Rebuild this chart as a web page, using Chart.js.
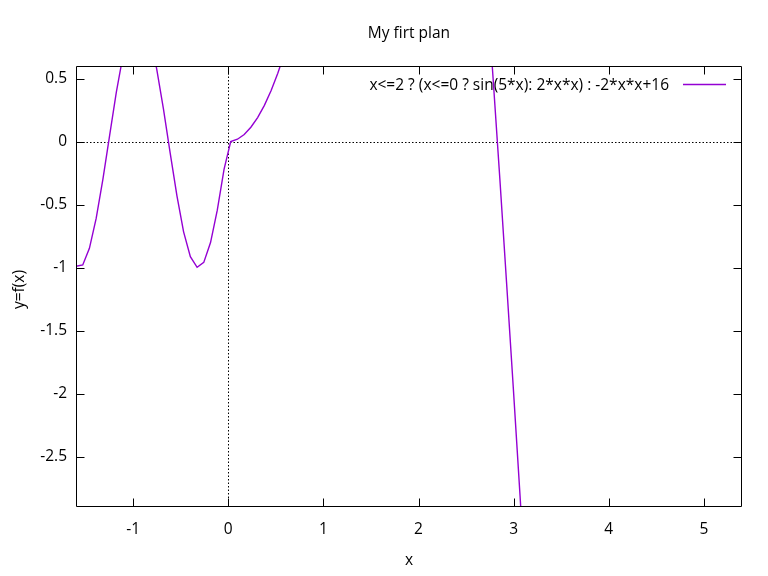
<!DOCTYPE html>
<html>
<head>
<meta charset="utf-8">
<script src="https://cdn.jsdelivr.net/npm/chart.js@4/dist/chart.umd.min.js"></script>
<style>
html,body{margin:0;padding:0;background:#fff;}
#wrap{width:768px;height:576px;position:relative;}
</style>
</head>
<body>
<div id="wrap"><canvas id="c" width="768" height="576"></canvas></div>
<script>
const titleText = "My firt plan";
const xAxisLabel = "x";
const yAxisLabel = "y=f(x)";
const seriesLabel = "x<=2 ? (x<=0 ? sin(5*x): 2*x*x) : -2*x*x+16";
const xRange = [-1.6, 5.4];
const yRange = [-2.9, 0.6];
const xTickValues = [-1, 0, 1, 2, 3, 4, 5];
const xTickLabels = ["-1", "0", "1", "2", "3", "4", "5"];
const yTickValues = [0.5, 0, -0.5, -1, -1.5, -2, -2.5];
const yTickLabels = ["0.5", "0", "-0.5", "-1", "-1.5", "-2", "-2.5"];
const xValues = [
 -1.600,-1.529,-1.459,-1.388,-1.317,-1.246,-1.176,-1.105,-1.034,-0.964,
 -0.893,-0.822,-0.752,-0.681,-0.610,-0.539,-0.469,-0.398,-0.327,-0.257,
 -0.186,-0.115,-0.044,0.026,0.097,0.168,0.238,0.309,0.380,0.451,
 0.521,0.592,0.663,0.733,0.804,0.875,0.945,1.016,1.087,1.158,
 1.228,1.299,1.370,1.440,1.511,1.582,1.653,1.723,1.794,1.865,
 1.935,2.006,2.077,2.147,2.218,2.289,2.360,2.430,2.501,2.572,
 2.642,2.713,2.784,2.855,2.925,2.996,3.067,3.137,3.208,3.279,
 3.349,3.420,3.491,3.562,3.632,3.703,3.774,3.844,3.915,3.986,
 4.057,4.127,4.198,4.269,4.339,4.410,4.481,4.552,4.622,4.693,
 4.764,4.834,4.905,4.976,5.046,5.117,5.188,5.259,5.329,5.400
];
const yValues = [
 -0.989,-0.979,-0.847,-0.610,-0.298,0.051,0.393,0.687,0.896,0.994,
 0.969,0.825,0.578,0.259,-0.091,-0.430,-0.716,-0.913,-0.998,-0.959,
 -0.801,-0.544,-0.220,0.001,0.019,0.056,0.114,0.191,0.288,0.406,
 0.543,0.701,0.878,1.076,1.293,1.530,1.788,2.065,2.363,2.680,
 3.017,3.375,3.752,4.150,4.567,5.004,5.462,5.939,6.436,6.954,
 7.491,7.951,7.374,6.777,6.159,5.522,4.865,4.187,3.490,2.773,
 2.035,1.278,0.501,-0.297,-1.114,-1.952,-2.809,-3.686,-4.584,-5.501,
 -6.438,-7.396,-8.373,-9.370,-10.388,-11.425,-12.482,-13.559,-14.657,-15.774,
 -16.912,-18.069,-19.246,-20.443,-21.661,-22.898,-24.155,-25.433,-26.730,-28.047,
 -29.385,-30.742,-32.119,-33.516,-34.934,-36.371,-37.828,-39.306,-40.803,-42.320
];

const FONT = '"Open Sans", "Noto Sans", sans-serif';
const FSIZE = 15.5;
const LINE_COLOR = '#9400d3';

const points = xValues.map((x, i) => ({x: x, y: yValues[i]}));

const frame = {
  id: 'gnuframe',
  beforeDatasetsDraw(chart) {
    const ctx = chart.ctx;
    const a = chart.chartArea;
    const xs = chart.scales.x, ys = chart.scales.y;
    ctx.save();
    // zero axes (dotted)
    ctx.strokeStyle = '#000';
    ctx.lineWidth = 1;
    ctx.setLineDash([1.5, 2]);
    const x0 = Math.round(xs.getPixelForValue(0)) + 0.5;
    const y0 = Math.round(ys.getPixelForValue(0)) + 0.5;
    ctx.beginPath();
    ctx.moveTo(x0, a.top); ctx.lineTo(x0, a.bottom);
    ctx.moveTo(a.left, y0); ctx.lineTo(a.right, y0);
    ctx.stroke();
    ctx.setLineDash([]);
    // legend (key) inside top-right
    ctx.fillStyle = '#000';
    ctx.font = FSIZE + 'px ' + FONT;
    ctx.textAlign = 'right';
    ctx.textBaseline = 'alphabetic';
    ctx.fillText(chart.data.datasets[0].label, a.right - 73, a.top + 24);
    ctx.strokeStyle = LINE_COLOR;
    ctx.lineWidth = 1.3;
    ctx.beginPath();
    ctx.moveTo(a.right - 59, a.top + 18.5);
    ctx.lineTo(a.right - 16, a.top + 18.5);
    ctx.stroke();
    ctx.restore();
  },
  afterDraw(chart) {
    const ctx = chart.ctx;
    const a = chart.chartArea;
    const xs = chart.scales.x, ys = chart.scales.y;
    ctx.save();
    ctx.strokeStyle = '#000';
    ctx.lineWidth = 1;
    const L = Math.round(a.left) + 0.5, R = Math.round(a.right) - 0.5;
    const T = Math.round(a.top) + 0.5, B = Math.round(a.bottom) - 0.5;
    ctx.beginPath();
    ctx.rect(L, T, R - L, B - T);
    // inward ticks on all four sides
    const tl = 8;
    xTickValues.forEach(v => {
      const px = Math.round(xs.getPixelForValue(v)) + 0.5;
      ctx.moveTo(px, B); ctx.lineTo(px, B - tl);
      ctx.moveTo(px, T); ctx.lineTo(px, T + tl);
    });
    yTickValues.forEach(v => {
      const py = Math.round(ys.getPixelForValue(v)) + 0.5;
      ctx.moveTo(L, py); ctx.lineTo(L + tl, py);
      ctx.moveTo(R, py); ctx.lineTo(R - tl, py);
    });
    ctx.stroke();
    // title and axis labels
    ctx.fillStyle = '#000';
    ctx.font = FSIZE + 'px ' + FONT;
    ctx.textAlign = 'center';
    ctx.textBaseline = 'alphabetic';
    const cx = (a.left + a.right) / 2;
    ctx.fillText(titleText, cx, 38);
    ctx.fillText(xAxisLabel, cx, 565);
    ctx.translate(20, (a.top + a.bottom) / 2 + 3);
    ctx.rotate(-Math.PI / 2);
    ctx.textBaseline = 'middle';
    ctx.fillText(yAxisLabel, 0, 0);
    ctx.restore();
  }
};

new Chart(document.getElementById('c'), {
  type: 'scatter',
  data: {
    datasets: [{
      label: seriesLabel,
      data: points,
      showLine: true,
      borderColor: LINE_COLOR,
      backgroundColor: LINE_COLOR,
      borderWidth: 1.4,
      pointRadius: 0,
      pointHoverRadius: 0,
      tension: 0,
      fill: false
    }]
  },
  options: {
    responsive: false,
    animation: false,
    events: [],
    layout: { padding: { top: 66, right: 26, left: 0, bottom: 0 } },
    plugins: { legend: { display: false }, title: { display: false }, tooltip: { enabled: false } },
    scales: {
      x: {
        type: 'linear',
        min: xRange[0], max: xRange[1],
        afterBuildTicks: s => { s.ticks = xTickValues.map(v => ({value: v})); },
        afterFit: s => { s.height = 69; },
        grid: { display: false, drawTicks: false },
        border: { display: false },
        ticks: {
          color: '#000', font: { family: FONT, size: FSIZE }, padding: 13, maxRotation: 0, autoSkip: false,
          callback: (v, i) => xTickLabels[i]
        }
      },
      y: {
        type: 'linear',
        min: yRange[0], max: yRange[1],
        afterBuildTicks: s => { s.ticks = yTickValues.map(v => ({value: v})); },
        afterFit: s => { s.width = 76; },
        grid: { display: false, drawTicks: false },
        border: { display: false },
        ticks: {
          color: '#000', font: { family: FONT, size: FSIZE }, padding: 9, autoSkip: false,
          callback: (v, i) => yTickLabels[i]
        }
      }
    }
  },
  plugins: [frame]
});
</script>
</body>
</html>
